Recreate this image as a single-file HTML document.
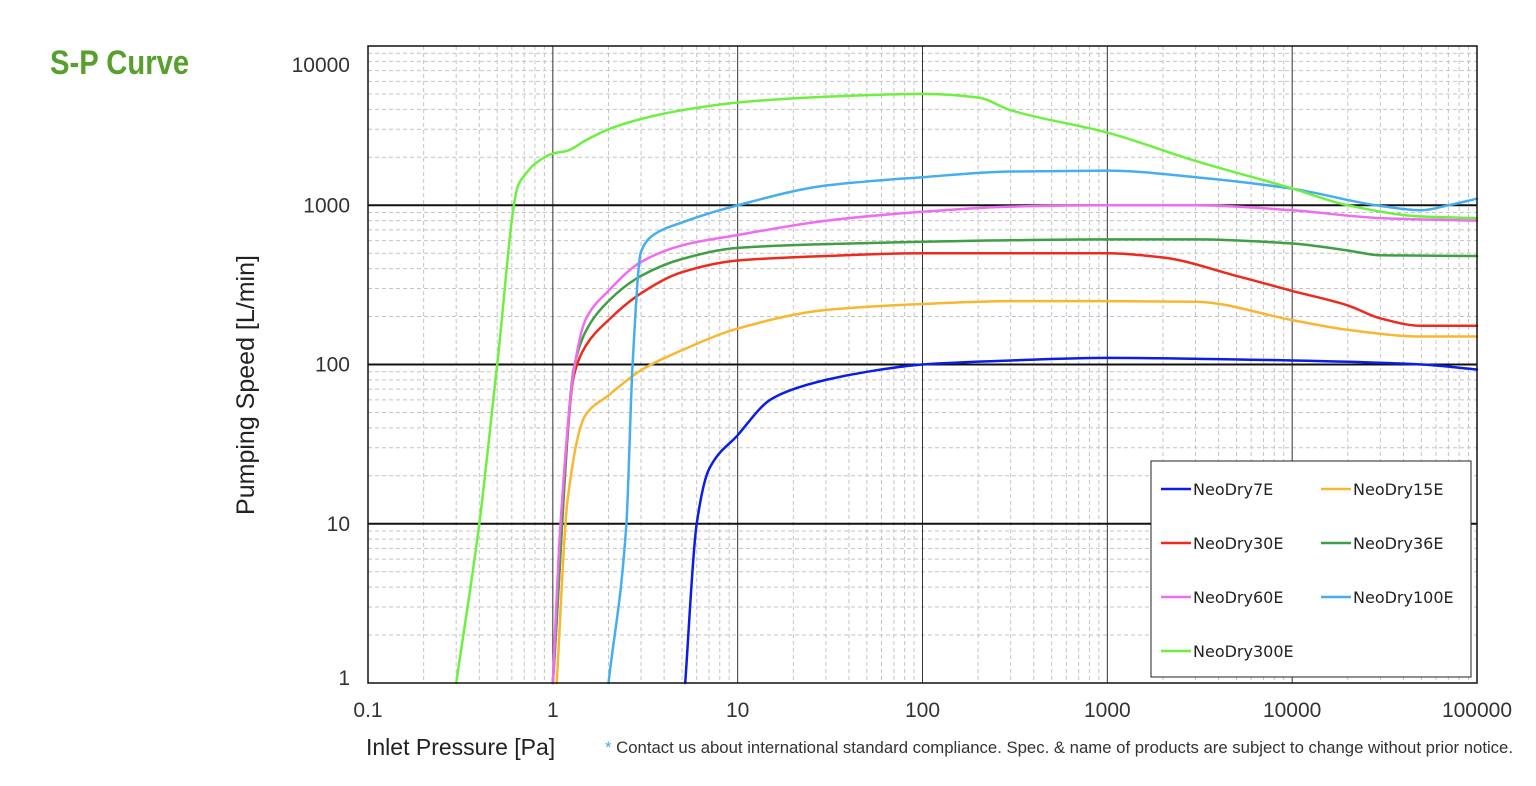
<!DOCTYPE html>
<html><head><meta charset="utf-8"><style>
html,body{margin:0;padding:0;background:#fff;width:1536px;height:786px;overflow:hidden}
svg{display:block}
</style></head><body>
<svg id="chart" width="1536" height="786" xmlns="http://www.w3.org/2000/svg">
<text x="50" y="74" font-family="Liberation Sans, sans-serif" font-weight="bold" font-size="34" fill="#57a02d" transform="translate(50,0) scale(0.86,1) translate(-50,0)">S-P Curve</text>
<g id="grid"></g>
<g id="series"></g>
<g id="axes"></g>
<text x="366" y="755" font-family="Liberation Sans, sans-serif" font-size="23" fill="#222">Inlet Pressure [Pa]</text>
<text x="0" y="0" transform="translate(254,385) rotate(-90)" text-anchor="middle" font-family="Liberation Sans, sans-serif" font-size="25" fill="#222">Pumping Speed [L/min]</text>
<text x="605" y="753" font-family="Liberation Sans, sans-serif" font-size="17" fill="#333" textLength="908" lengthAdjust="spacingAndGlyphs"><tspan fill="#3fa9f5">*</tspan> Contact us about international standard compliance. Spec. &amp; name of products are subject to change without prior notice.</text>
<g id="legend"></g>
</svg>
<script>
const xTicks=[0.1,1,10,100,1000,10000,100000];
const xTickLabels=["0.1","1","10","100","1000","10000","100000"];
const yTicks=[1,10,100,1000,10000];
const yTickLabels=["1","10","100","1000","10000"];
const seriesNames=["NeoDry7E","NeoDry15E","NeoDry30E","NeoDry36E","NeoDry60E","NeoDry100E","NeoDry300E"];
const seriesColors=["#0a1ee6","#f7b731","#ee2a1e","#3f9f45","#f06cf0","#45aef0","#6ef040"];
const p7E=[5.2,6,7,10,15,20,30,50,100,300,1000,10000,50000,100000];
const s7E=[1,10,22,36,60,70,80,90,100,106,110,106,100,93];
const p15E=[1.05,1.2,1.5,2,3,5,10,30,100,300,1000,3000,10000,20000,50000,100000];
const s15E=[1,14,48,64,92,123,168,220,240,250,250,248,190,165,150,150];
const p30E=[1,1.3,1.5,2,3,5,10,30,100,1000,2000,5000,10000,20000,30000,50000,100000];
const s30E=[1,85,130,190,280,380,450,480,500,500,470,360,290,235,195,175,175];
const p36E=[1,1.3,1.5,2,3,5,10,30,100,1000,3000,10000,20000,30000,100000];
const s36E=[1,95,160,250,360,460,540,570,590,610,610,575,520,485,480];
const p60E=[1,1.1,1.3,1.5,2,3,5,10,30,100,300,1000,3000,10000,30000,100000];
const s60E=[1,10,92,190,290,440,560,650,800,910,980,1000,1000,930,830,800];
const p100E=[2,2.5,2.7,3,3.5,5,10,30,100,300,1000,3000,10000,30000,50000,70000,100000];
const s100E=[1,10,100,510,650,780,1000,1330,1500,1630,1650,1500,1270,990,930,1000,1100];
const p300E=[0.3,0.4,0.5,0.65,0.7,0.8,1,1.2,1.5,2,3,5,10,30,100,200,300,1000,3000,10000,20000,50000,100000];
const s300E=[1,10,100,1340,1530,1820,2110,2200,2550,3000,3480,3950,4420,4800,5000,4750,3950,2860,1900,1275,1000,850,830];
const seriesP=[p7E,p15E,p30E,p36E,p60E,p100E,p300E];
const seriesS=[s7E,s15E,s30E,s36E,s60E,s100E,s300E];

const L=368,R=1477,T=46,B=683;
const xMinL=-1,xMaxL=5,yMinL=0,yMaxL=4;
function X(v){return L+(Math.log10(v)-xMinL)/(xMaxL-xMinL)*(R-L);}
function Y(v){return B-(Math.log10(v)-yMinL)/(yMaxL-yMinL)*(B-T);}
const NS="http://www.w3.org/2000/svg";
function mk(tag,attrs,parent){const e=document.createElementNS(NS,tag);for(const k in attrs)e.setAttribute(k,attrs[k]);parent.appendChild(e);return e;}
function monoPath(pts){const n=pts.length;const dx=[],m=[],t=new Array(n);
 for(let i=0;i<n-1;i++){dx.push(pts[i+1][0]-pts[i][0]);m.push((pts[i+1][1]-pts[i][1])/dx[i]);}
 t[0]=m[0];t[n-1]=m[n-2];
 for(let i=1;i<n-1;i++){if(m[i-1]*m[i]<=0)t[i]=0;else{const w1=2*dx[i]+dx[i-1],w2=dx[i]+2*dx[i-1];t[i]=(w1+w2)/(w1/m[i-1]+w2/m[i]);}}
 let d='M'+pts[0][0].toFixed(1)+','+pts[0][1].toFixed(1);
 for(let i=0;i<n-1;i++){const h=dx[i]/3;
  d+=' C'+(pts[i][0]+h).toFixed(1)+','+(pts[i][1]+t[i]*h).toFixed(1)+' '+(pts[i+1][0]-h).toFixed(1)+','+(pts[i+1][1]-t[i+1]*h).toFixed(1)+' '+pts[i+1][0].toFixed(1)+','+pts[i+1][1].toFixed(1);}
 return d;}
const grid=document.getElementById('grid'),axes=document.getElementById('axes'),ser=document.getElementById('series'),leg=document.getElementById('legend');
for(let d=xMinL;d<xMaxL;d++)for(let m=2;m<=9;m++){const x=X(m*Math.pow(10,d));
 const ln=mk('line',{x1:x,x2:x,y1:T,y2:B,stroke:'#c4c4c4','stroke-width':1,'stroke-dasharray':'4,3'},grid);
 
 }
for(let d=yMinL;d<yMaxL;d++)for(let m=2;m<=9;m++){const y=Y(m*Math.pow(10,d));
 const ln=mk('line',{x1:L,x2:R,y1:y,y2:y,stroke:'#c4c4c4','stroke-width':1,'stroke-dasharray':'4,3'},grid);
 
 }
xTicks.forEach((v,i)=>{const x=X(v);
 const ln=mk('line',{x1:x,x2:x,y1:T,y2:B,stroke:'#333','stroke-width':1},grid);
 
 
 const t=mk('text',{x:x,y:717,'text-anchor':'middle','font-family':'Liberation Sans, sans-serif','font-size':21,fill:'#333'},axes);
 t.textContent=xTickLabels[i];
 
 });
yTicks.forEach((v,i)=>{const y=Y(v);
 const ln=mk('line',{x1:L,x2:R,y1:y,y2:y,stroke:'#111','stroke-width':(v===1||v===10000)?1:2},grid);
 
 
 const ly=v===10000?y+26:(v===1?y+2:y+7);
 const t=mk('text',{x:350,y:ly,'text-anchor':'end','font-family':'Liberation Sans, sans-serif','font-size':21,fill:'#333'},axes);
 t.textContent=yTickLabels[i];
 
 });
const frame=mk('rect',{x:L,y:T,width:R-L,height:B-T,fill:'none',stroke:'#111','stroke-width':1.5},axes);


seriesNames.forEach((n,i)=>{const pts=seriesP[i].map((p,j)=>[X(p),Y(seriesS[i][j])]);
 const pl=mk('path',{d:monoPath(pts),fill:'none',stroke:seriesColors[i],'stroke-width':2.5,'stroke-linejoin':'round','stroke-linecap':'round'},ser);
 
 });
const lb=mk('rect',{x:1151,y:461,width:320,height:216,fill:'#fff',stroke:'#222','stroke-width':1},leg);


seriesNames.forEach((n,i)=>{const col=i%2,row=Math.floor(i/2);const x=1161+col*160,y=489+row*54;
 const g=mk('g',{},leg);
 
 
 mk('line',{x1:x,x2:x+30,y1:y,y2:y,stroke:seriesColors[i],'stroke-width':2.5},g);
 const t=mk('text',{x:x+32,y:y+6,'font-family':'DejaVu Sans, sans-serif','font-size':16,fill:'#222'},g);
 t.textContent=n;});
</script>
</body></html>
